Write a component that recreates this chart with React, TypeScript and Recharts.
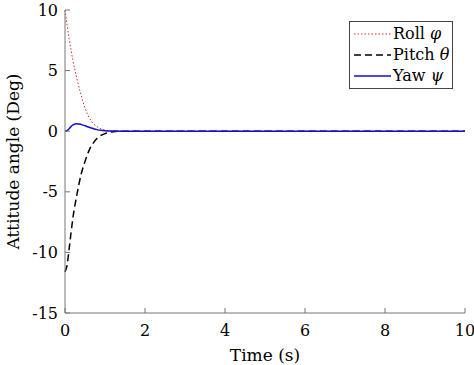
import { Label, Line, LineChart, XAxis, YAxis } from 'recharts';

const time = [0, 0.05, 0.1, 0.15, 0.2, 0.3, 0.4, 0.5, 0.6, 0.7, 0.8, 0.9, 1.0, 1.1, 1.2, 1.4, 2, 3, 4, 5, 6, 7, 8, 9, 10];
const roll = [10, 8.8, 7.7, 6.7, 5.8, 4.3, 3.0, 1.9, 1.15, 0.65, 0.38, 0.2, 0.1, 0.04, 0.01, 0, 0, 0, 0, 0, 0, 0, 0, 0, 0];
const pitch = [-11.6, -11.1, -9.8, -8.4, -7.1, -5.2, -3.6, -2.5, -1.6, -1.0, -0.6, -0.35, -0.2, -0.1, -0.04, 0, 0, 0, 0, 0, 0, 0, 0, 0, 0];
const yaw = [0, 0.05, 0.2, 0.38, 0.52, 0.62, 0.56, 0.45, 0.33, 0.22, 0.13, 0.07, 0.04, 0.02, 0.01, 0, 0, 0, 0, 0, 0, 0, 0, 0, 0];
const xTicks = [0, 2, 4, 6, 8, 10];
const yTicks = [-15, -10, -5, 0, 5, 10];

const data = time.map((t, i) => ({ t, roll: roll[i], pitch: pitch[i], yaw: yaw[i] }));

// only serif face that resolves in the sandbox
const font = '"DejaVu Serif", serif';
const axisColor = '#777';
const tickStyle = { fontSize: 16, fill: '#000', fontFamily: font };
const labelStyle = { fontSize: 17, fontFamily: font, fill: '#000' };

const legendItems = [
  { name: 'Roll', sym: 'φ', color: '#e02828', dash: '1.5 2', width: 1 },
  { name: 'Pitch', sym: 'θ', color: '#000', dash: '7 4', width: 1.5 },
  { name: 'Yaw', sym: 'ψ', color: '#1010d0', dash: undefined, width: 1.5 },
];

function LegendBox() {
  return (
    <div
      style={{
        position: 'absolute',
        left: 349,
        top: 21,
        border: '1px solid #444',
        background: '#fff',
        width: 104,
        height: 68,
        boxSizing: 'border-box',
        fontFamily: font,
        fontSize: 16,
        lineHeight: '21px',
        color: '#000',
        padding: '1px 0 0 4px',
      }}
    >
      {legendItems.map((it) => (
        <div key={it.name} style={{ display: 'flex', alignItems: 'center', height: 21 }}>
          <svg width={37} height={10}>
            <line x1={0} y1={5} x2={37} y2={5} stroke={it.color} strokeWidth={it.width} strokeDasharray={it.dash} />
          </svg>
          <span style={{ marginLeft: 2, whiteSpace: 'nowrap' }}>
            {it.name} <i>{it.sym}</i>
          </span>
        </div>
      ))}
    </div>
  );
}

export default function App() {
  return (
    <div style={{ position: 'fixed', left: 0, top: 0, width: 474, height: 365, background: '#fff' }}>
      <LineChart width={474} height={365} data={data} margin={{ top: 10, right: 9, bottom: 0, left: 0 }}>
        <XAxis
          dataKey="t"
          type="number"
          domain={[0, 10]}
          ticks={xTicks}
          height={52}
          stroke={axisColor}
          tickSize={-5}
          tickMargin={17}
          tick={tickStyle}
        >
          <Label value="Time (s)" position="insideBottom" offset={4} style={labelStyle} />
        </XAxis>
        <XAxis
          xAxisId="top"
          orientation="top"
          dataKey="t"
          type="number"
          domain={[0, 10]}
          ticks={xTicks}
          height={0}
          stroke={axisColor}
          tickSize={-5}
          tick={false}
        />
        <YAxis
          type="number"
          domain={[-15, 10]}
          ticks={yTicks}
          width={65}
          stroke={axisColor}
          tickSize={-5}
          tickMargin={12}
          tick={tickStyle}
        >
          <Label
            value="Attitude angle (Deg)"
            angle={-90}
            position="insideLeft"
            offset={13}
            style={{ ...labelStyle, textAnchor: 'middle' }}
          />
        </YAxis>
        <YAxis
          yAxisId="right"
          orientation="right"
          type="number"
          domain={[-15, 10]}
          ticks={yTicks}
          width={0}
          stroke={axisColor}
          tickSize={-5}
          tick={false}
        />
        <Line dataKey="roll" type="monotone" stroke="#e02828" strokeWidth={1} strokeDasharray="1.5 2" dot={false} isAnimationActive={false} />
        <Line dataKey="pitch" type="monotone" stroke="#000" strokeWidth={1.5} strokeDasharray="7 4" dot={false} isAnimationActive={false} />
        <Line dataKey="yaw" type="monotone" stroke="#1010d0" strokeWidth={1.5} dot={false} isAnimationActive={false} />
      </LineChart>
      <LegendBox />
    </div>
  );
}
